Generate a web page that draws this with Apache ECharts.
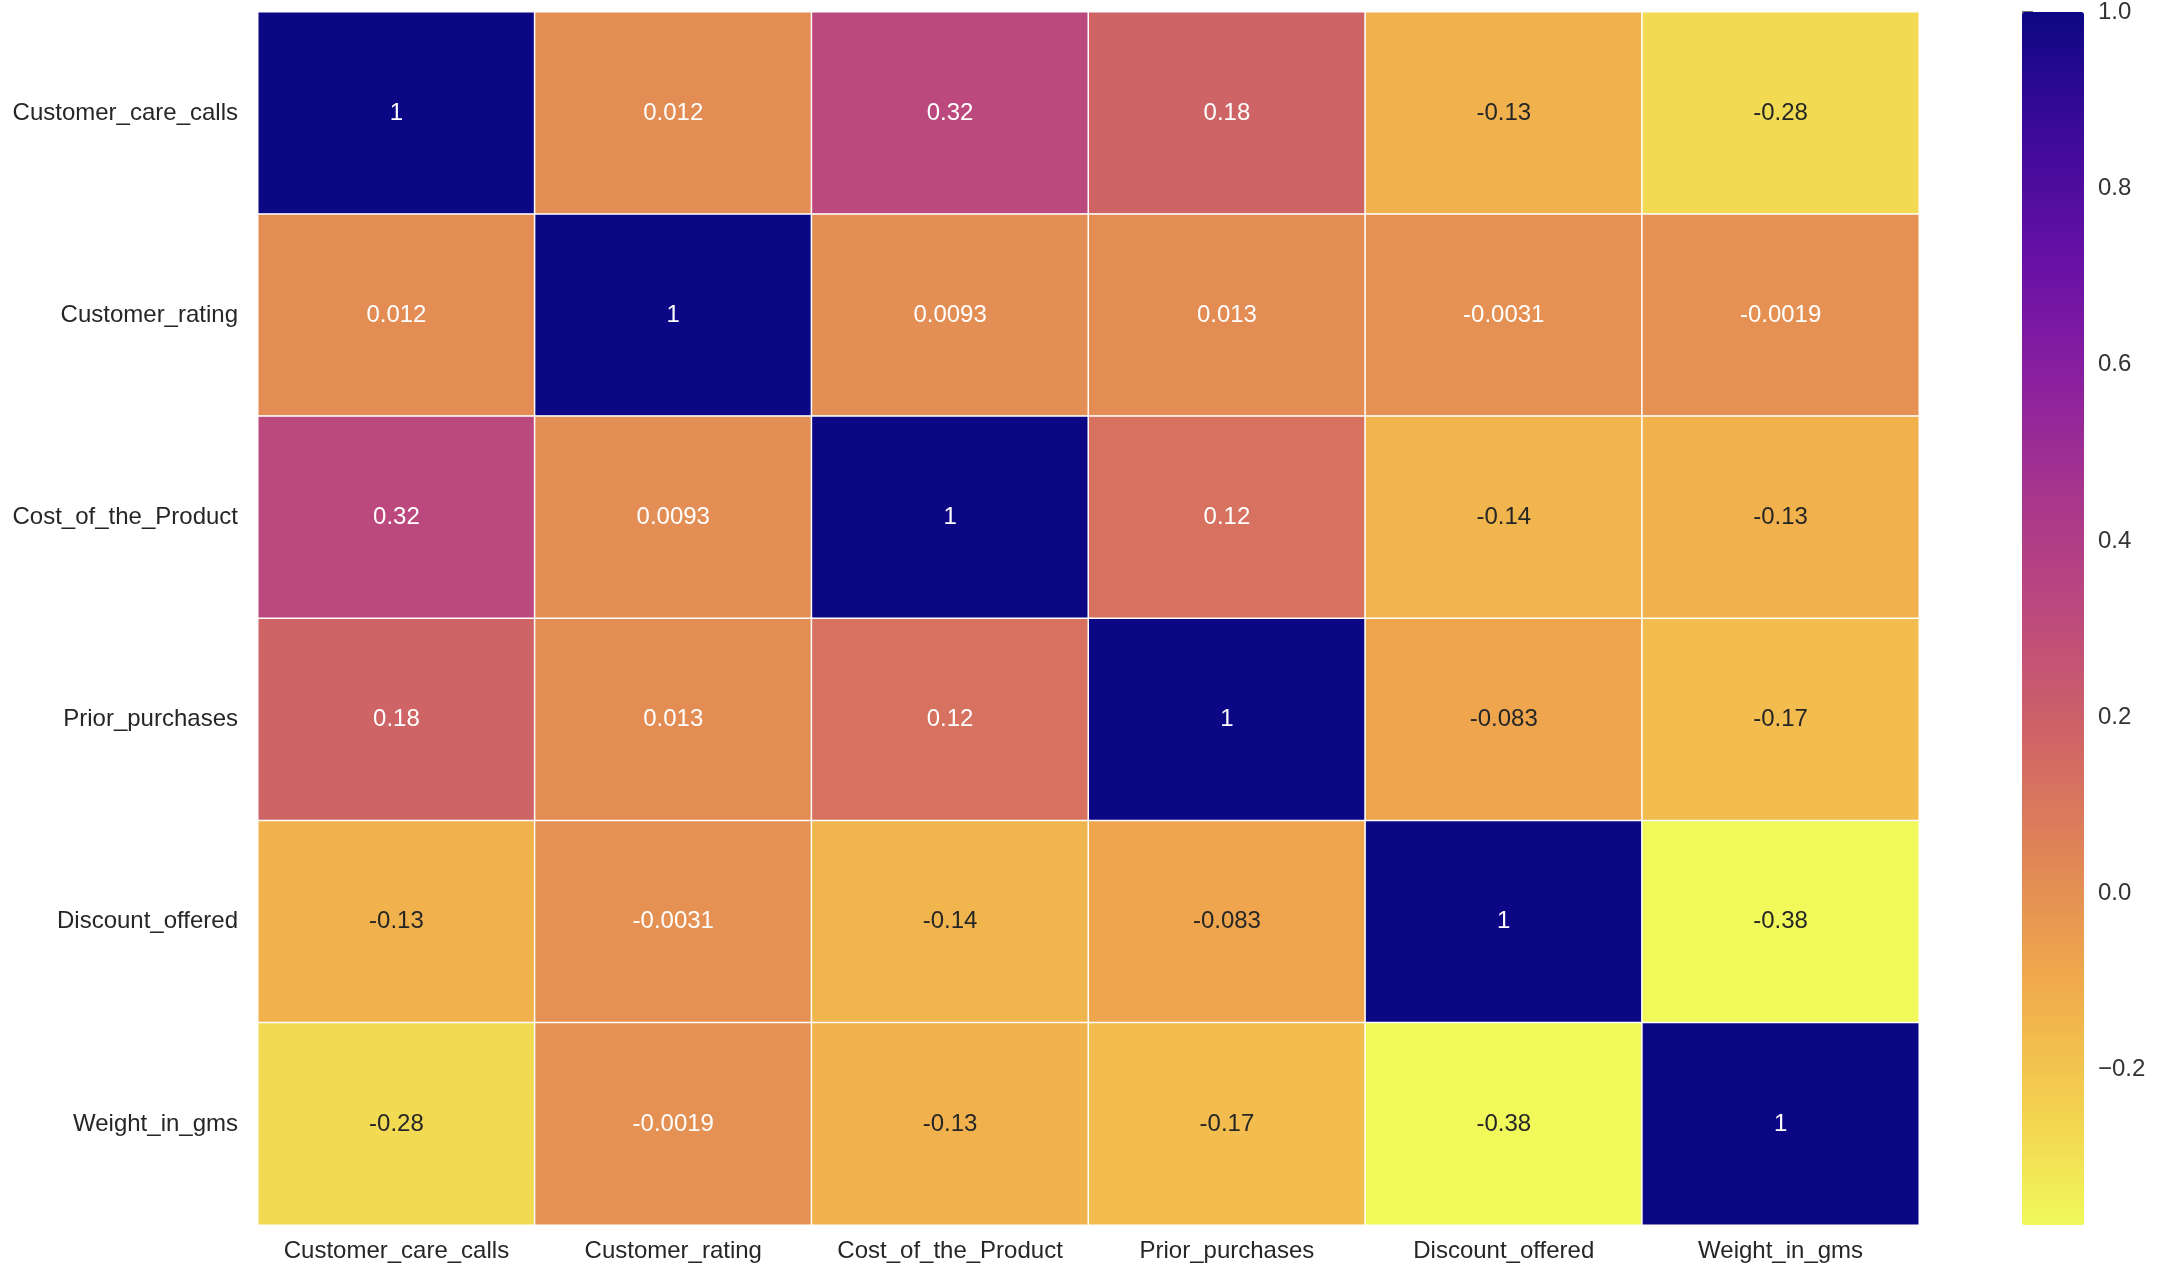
<!DOCTYPE html>
<html>
<head>
<meta charset="utf-8">
<script src="https://cdn.jsdelivr.net/npm/echarts@6/dist/echarts.min.js"></script>
<style>
html,body{margin:0;padding:0;background:#fff;}
#chart{width:2158px;height:1288px;}
</style>
</head>
<body>
<div id="chart"></div>
<script>
const categories = ["Customer_care_calls","Customer_rating","Cost_of_the_Product","Prior_purchases","Discount_offered","Weight_in_gms"];
const rowCustomerCareCalls = [1, 0.012, 0.32, 0.18, -0.13, -0.28];
const rowCustomerRating    = [0.012, 1, 0.0093, 0.013, -0.0031, -0.0019];
const rowCostOfProduct     = [0.32, 0.0093, 1, 0.12, -0.14, -0.13];
const rowPriorPurchases    = [0.18, 0.013, 0.12, 1, -0.083, -0.17];
const rowDiscountOffered   = [-0.13, -0.0031, -0.14, -0.083, 1, -0.38];
const rowWeightInGms       = [-0.28, -0.0019, -0.13, -0.17, -0.38, 1];
const colorbarTicks = [-0.2, 0, 0.2, 0.4, 0.6, 0.8, 1.0];
const colorMin = -0.376, colorMax = 1;

const rows = [rowCustomerCareCalls,rowCustomerRating,rowCostOfProduct,rowPriorPurchases,rowDiscountOffered,rowWeightInGms];
// reversed "plasma" colormap, toned to match the reference rendering
const plasmaR = ['#f0f85a','#f3cf4f','#f0aa4c','#e08756','#d06565','#bd4a7c','#a8368c','#8a1fa0','#6510a5','#3d0a9a','#0c0784'];

const data = [];
rows.forEach((r, yi) => r.forEach((v, xi) => {
  data.push({value:[xi, yi, v], label:{color: v > -0.05 ? '#ffffff' : '#262626'}});
}));

const FONT = "'Liberation Sans', Arial, Helvetica, sans-serif";
const chart = echarts.init(document.getElementById('chart'), null, {renderer:'canvas'});
chart.setOption({
  animation:false,
  backgroundColor:'#ffffff',
  grid:[
    {left:258, top:12, width:1661, height:1213, containLabel:false},
    {left:2022, top:12, width:62, height:1213, containLabel:false}
  ],
  xAxis:[
    {type:'category', data:categories, gridIndex:0, position:'bottom',
     axisLine:{show:false}, axisTick:{show:false}, splitLine:{show:false},
     axisLabel:{interval:0, fontFamily:FONT, fontSize:24, color:'#262626', margin:14}},
    {type:'value', gridIndex:1, show:false, min:0, max:1}
  ],
  yAxis:[
    {type:'category', data:categories, gridIndex:0, inverse:true,
     axisLine:{show:false}, axisTick:{show:false}, splitLine:{show:false},
     axisLabel:{interval:0, fontFamily:FONT, fontSize:24, color:'#262626', margin:20}},
    {type:'value', gridIndex:1, position:'right', min:colorMin, max:colorMax,
     axisLine:{show:false}, splitLine:{show:false},
     axisTick:{show:true, length:11, inside:false, customValues:colorbarTicks, lineStyle:{color:'#444', width:1.5}},
     axisLabel:{show:true, customValues:colorbarTicks, fontFamily:FONT, fontSize:24, color:'#333', margin:14,
       formatter:v => (v < 0 ? '\u2212' : '') + Math.abs(v).toFixed(1)}}
  ],
  visualMap:{
    type:'continuous', min:colorMin, max:colorMax, calculable:false, show:true,
    seriesIndex:0, orient:'vertical', left:2022, top:12, itemWidth:62, itemHeight:1213,
    padding:0, text:null, showLabel:false, hoverLink:false,
    inRange:{color:plasmaR}
  },
  series:[
    {type:'heatmap', xAxisIndex:0, yAxisIndex:0, data:data,
     itemStyle:{borderColor:'#ffffff', borderWidth:1.5},
     label:{show:true, fontFamily:FONT, fontSize:24, formatter:p => String(p.value[2])},
     emphasis:{disabled:true}},
    {type:'scatter', xAxisIndex:1, yAxisIndex:1, data:[], silent:true}
  ]
});
</script>
</body>
</html>
